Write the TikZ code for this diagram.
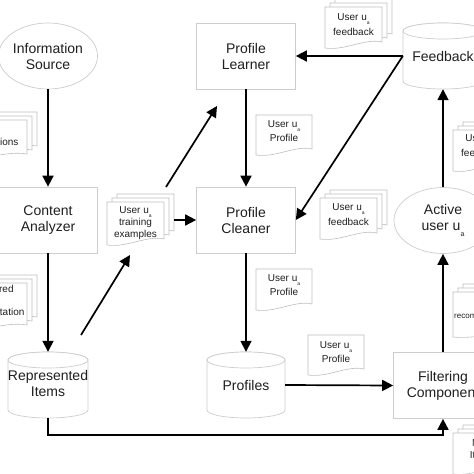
\documentclass[tikz,border=0pt]{standalone}
\usepackage{fontspec}
\setmainfont{Liberation Sans}
\usepackage{graphicx}
\usetikzlibrary{arrows.meta,calc,shapes.geometric}
\newcommand\uasub{u\raisebox{-0.4em}{\scalebox{0.5}{a}}}
\newcommand\docsheet[4]{\filldraw[docline] (#1,#2) -- ({#1+#3},#2) -- ({#1+#3},{#2+#4-6}) .. controls ({#1+0.7*#3},{#2+#4-10}) and ({#1+0.35*#3},{#2+#4+3}) .. (#1,{#2+#4}) -- cycle;}
\newcommand\docstack[4]{\docsheet{#1+10}{#2-8}{#3}{#4}\docsheet{#1+5}{#2-4}{#3}{#4}\docsheet{#1}{#2}{#3}{#4}}
\newcommand\cylshape[4]{%
 \filldraw[shapeline] ({#1-#3/2},{#2-#4/2+8}) -- ({#1-#3/2},{#2+#4/2-8}) arc[start angle=180,end angle=360,x radius={#3/2*1pt},y radius=8pt] -- ({#1+#3/2},{#2-#4/2+8}) arc[start angle=0,end angle=180,x radius={#3/2*1pt},y radius=8pt] -- cycle;
 \draw[shapeline] (#1,{#2-#4/2+8}) ellipse[x radius={#3/2*1pt}, y radius=8pt];}
\tikzset{
 shapeline/.style={draw={rgb,255:red,205;green,205;blue,205}, line width=0.7pt, fill=white},
 docline/.style={draw={rgb,255:red,190;green,190;blue,190}, line width=0.6pt, fill=white},
 mainfont/.style={font=\fontsize{14}{16}\selectfont, text=black!88},
 mainbox/.style={shapeline, mainfont, rectangle, minimum width=99pt, minimum height=66pt, inner sep=0pt, align=center},
 mainell/.style={shapeline, mainfont, ellipse, minimum width=98pt, minimum height=66pt, inner sep=0pt, align=center},
 cyltext/.style={mainfont, rectangle, minimum width=80pt, minimum height=66pt, inner sep=0pt, align=center},
 doctext/.style={align=center, inner sep=0pt, font=\fontsize{10}{14}\selectfont, text=black!88},
 flow/.style={line width=1.7pt, -{Triangle[length=11pt,width=11pt]}},
}
\begin{document}
\begin{tikzpicture}[x=1pt,y=-1pt]
\useasboundingbox (0,0) rectangle (474,474);
\clip (0,0) rectangle (474,474);
% main shapes
\node[mainell] (info) at (48,56) {Information\\Source};
\node[mainbox] (content) at (48,220) {Content\\Analyzer};
\node[mainbox] (learner) at (246,56) {Profile\\Learner};
\node[mainbox] (cleaner) at (246,220) {Profile\\Cleaner};
\node[mainbox] (filt) at (443,385.5) {Filtering\\Component};
\node[mainell] (active) at (443,220.5) {Active\\user \uasub};
\cylshape{48}{385}{80}{66}
\node[cyltext] (rep) at (48,385) {\raisebox{-4pt}{\begin{tabular}{@{}c@{}}Represented\\Items\end{tabular}}};
\cylshape{246}{385}{78}{66}
\node[cyltext, minimum width=78pt] (prof) at (246,385) {\raisebox{-5pt}{Profiles}};
\cylshape{443}{56}{80}{66}
\node[cyltext] (fb) at (443,56) {\raisebox{-5pt}{Feedback}};
% documents
\docstack{-49}{120}{76}{40}
\node[doctext, font=\fontsize{10}{11.5}\selectfont] (itemdesc) at (-9,137.5) {Item\\Descriptions};
\docstack{-49}{283}{76}{48}
\node[doctext, font=\fontsize{10}{11.5}\selectfont] (structrep) at (-9.5,301.5) {Structured\\Item\\Representation};
\docstack{107}{202}{57}{43}
\node[doctext, font=\fontsize{10}{12}\selectfont] (train) at (135.5,223) {User \uasub\\training\\examples};
\docstack{325}{7}{57}{41}
\node[doctext, font=\fontsize{10}{15}\selectfont] (fbdoc1) at (353.5,24.5) {User \uasub\\feedback};
\docsheet{256}{115}{56}{40}
\node[doctext] (profdoc1) at (284,131) {User \uasub\\Profile};
\docstack{320}{198}{57}{41}
\node[doctext, font=\fontsize{10}{15}\selectfont] (fbdoc2) at (348.5,214.5) {User \uasub\\feedback};
\docsheet{256}{269}{56}{41}
\node[doctext] (profdoc2) at (284,285.5) {User \uasub\\Profile};
\docsheet{308}{335}{56}{40}
\node[doctext] (profdoc3) at (336,352) {User \uasub\\Profile};
\docstack{453}{130}{57}{41}
\node[doctext, font=\fontsize{10}{15}\selectfont] (fbdoc3) at (481.5,145.5) {User \uasub\\feedback};
\docstack{453}{292}{80}{45}
\node[doctext, font=\fontsize{8}{9.5}\selectfont] (recs) at (486,311) {List of\\recommendations};
\docstack{453}{433}{57}{41}
\node[doctext, font=\fontsize{10}{12}\selectfont] (newitems) at (482,449) {New\\Items};
% free coordinates
\coordinate (trainR) at (174,220);
\coordinate (a1) at (81,335);
\coordinate (a2) at (130,255);
\coordinate (b1) at (166,187);
\coordinate (b2) at (217,106);
% connectors
\draw[flow] (info) -- (content);
\draw[flow] (content) -- (rep.north);
\draw[flow] (rep.south) -- ++(0,17) -| (filt.south);
\draw[flow] (prof.east) -- (filt.west);
\draw[flow] (filt) -- (active);
\draw[flow] (active) -- (fb.south);
\draw[flow] (fb.west) -- (learner.east);
\draw[flow] (fb.west) -- (cleaner.east);
\draw[flow] (learner) -- (cleaner);
\draw[flow] (cleaner) -- (prof.north);
\draw[flow] (trainR) -- (cleaner.west);
\draw[flow] (a1) -- (a2);
\draw[flow] (b1) -- (b2);
\end{tikzpicture}
\end{document}
